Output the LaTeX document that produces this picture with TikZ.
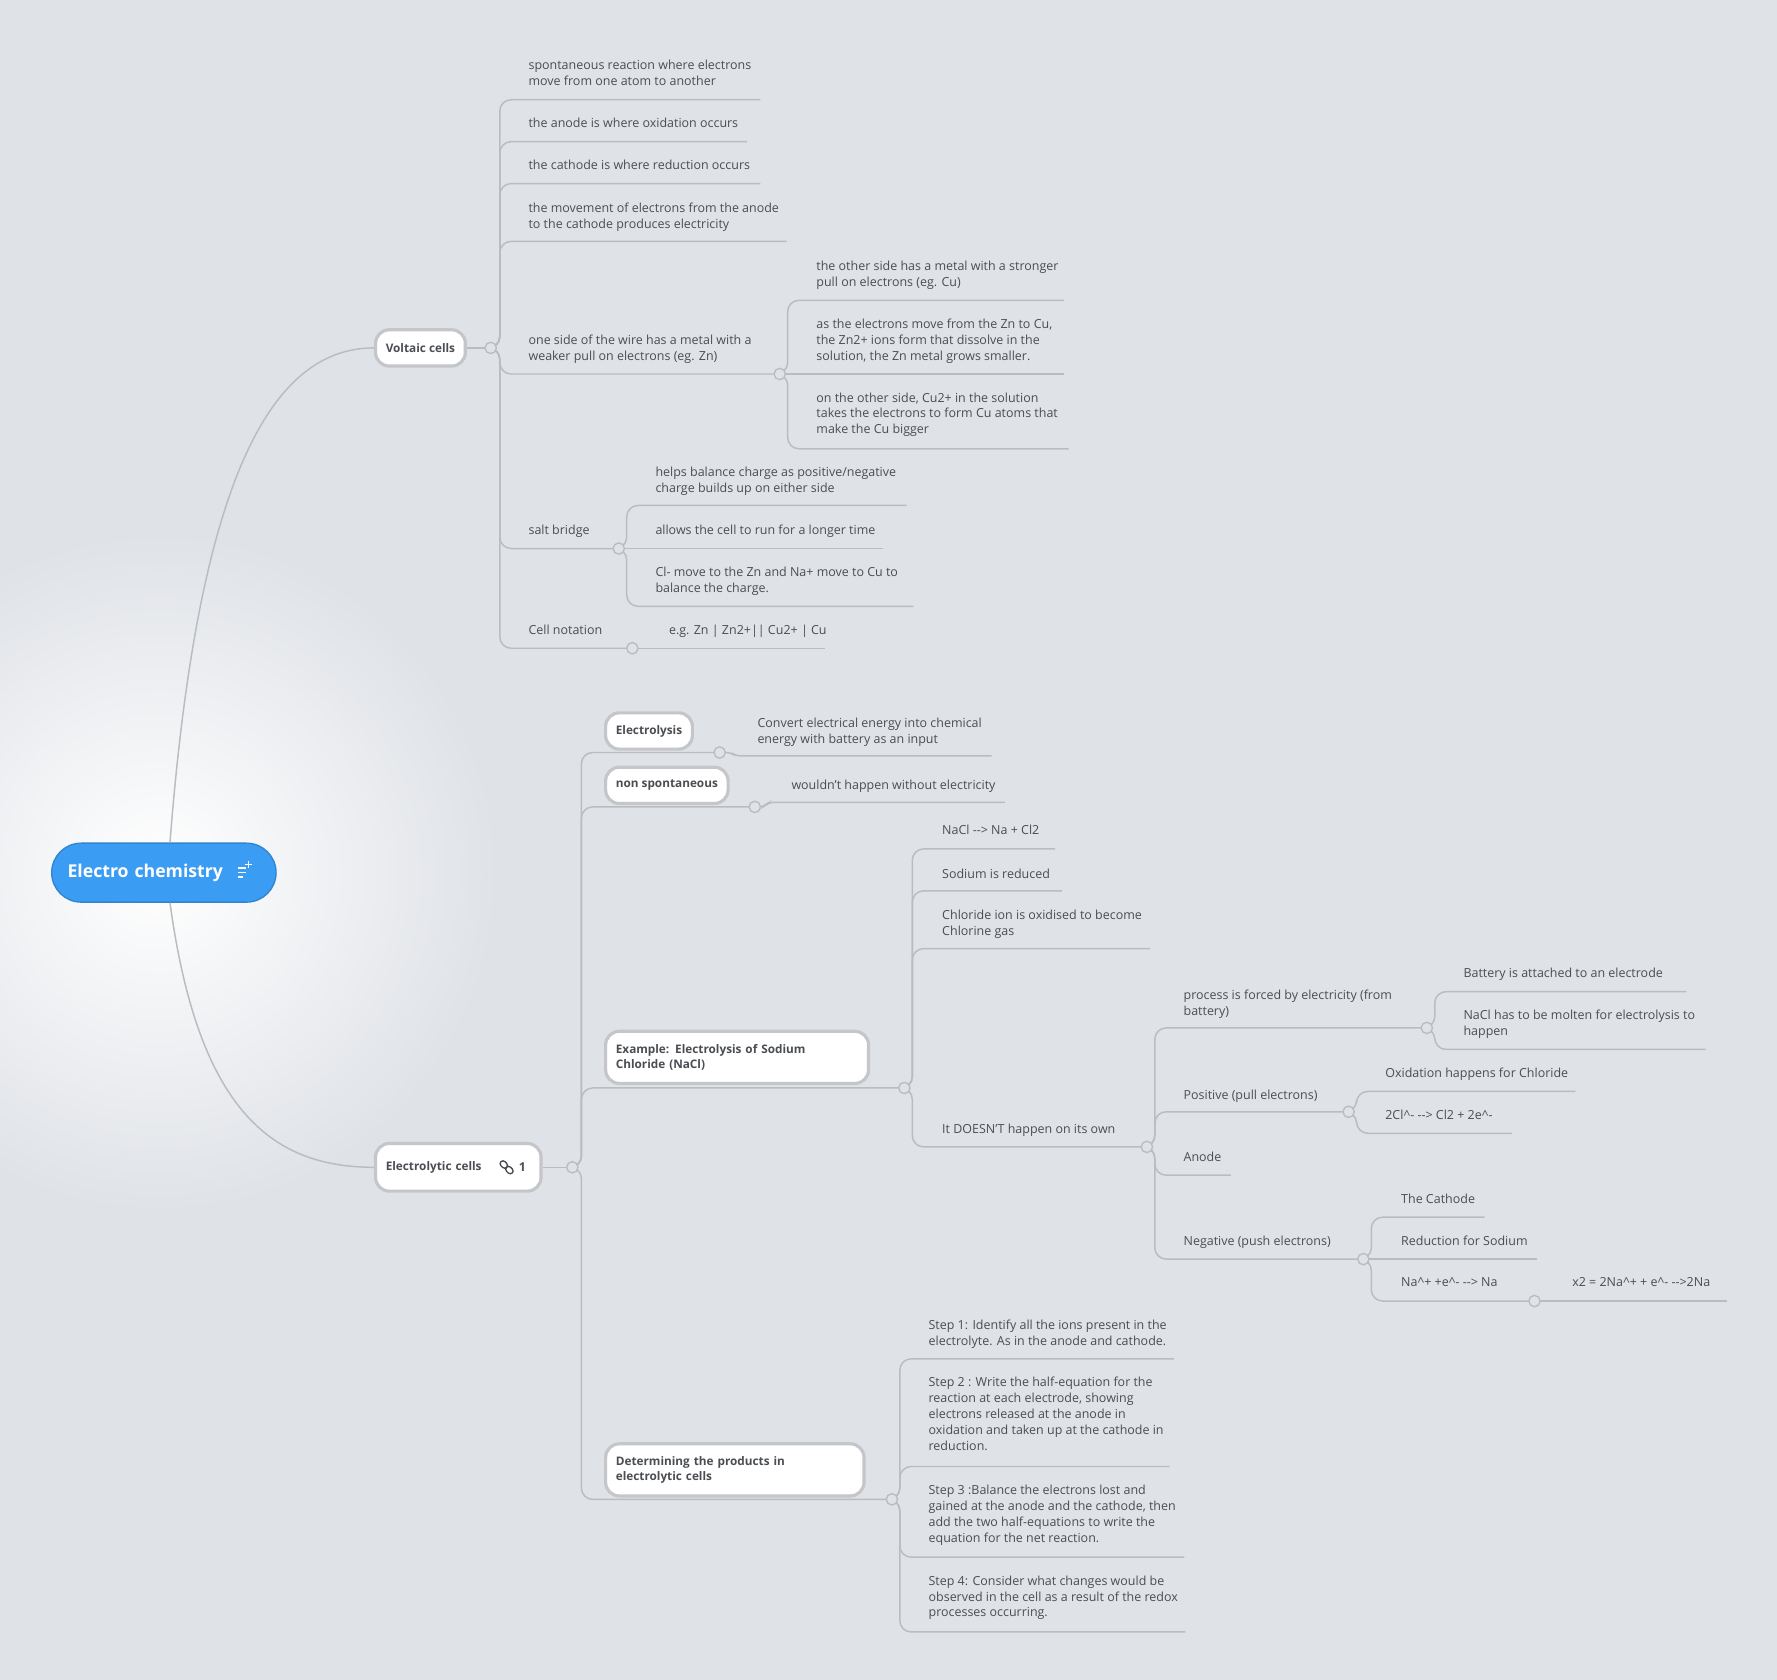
\documentclass[tikz,border=0pt]{standalone}
\usepackage{fontspec}
\setmainfont{Open Sans}
\definecolor{bg}{HTML}{DFE2E7}
\definecolor{ln}{HTML}{B9BCC1}
\definecolor{tx}{HTML}{4A4D52}
\definecolor{bx}{HTML}{C4C6CA}
\definecolor{blu}{HTML}{3A9CF2}
\hyphenpenalty=10000
\tikzset{
 conn/.style={draw=ln,line width=0.65pt},
 txt/.style={inner sep=0pt,align=left,text=tx,font=\fontsize{5.5}{7}\selectfont,anchor=north west},
 topic/.style={draw=bx,line width=1.4pt,fill=white,rounded corners=6pt,inner xsep=4.5pt,inner ysep=3pt,align=left,text=tx,font=\fontsize{5.2}{7}\selectfont\bfseries,anchor=west},
 dot/.style={circle,draw=ln,fill=bg,line width=0.6pt,inner sep=0pt,minimum size=5pt}
}
\newcommand\lfa[8]{%
 \draw[conn,rounded corners=5pt] (#1) -- (#1 -| #2,0) -- (#2,#5) -- (#6,#5);
 \coordinate (#8) at (#6,#5);
 \node[txt] (t#8) at (#3,#4-4) {#7};}
\newcommand\lfb[7]{%
 \draw[conn] (#1) -- (#5,0 |- #1);
 \coordinate (#7) at (#1 -| #5,0);
 \node[txt] (t#7) at (#2,#3-4) {#6};}
\newcommand\arr{-{}-{}>}
\begin{document}
\begin{tikzpicture}[x=0.5pt,y=-0.5pt]
\fill[bg] (0,0) rectangle (1568,1482);
\useasboundingbox (0,0) rectangle (1568,1482);
\shade[inner color=white,outer color=bg] (140,770) circle (300);
\node[fill=blu,draw=blu!85!black,line width=0.6pt,rounded corners=13pt,minimum width=99pt,minimum height=26pt,text=white,font=\fontsize{7.8}{10}\selectfont\bfseries,anchor=west,inner xsep=7pt,text width=85pt] (root) at (45,770) {Electro chemistry};
\foreach \yy/\ll in {766/7,770/7,774/4} \draw[white,line width=0.6pt] (210,\yy) -- (210+\ll,\yy);
\draw[white,line width=0.6pt] (216,763)--(222,763) (219,760)--(219,766);
\node[topic,minimum height=16pt] (volt) at (330,307) {Voltaic cells};
\node[topic,minimum height=21pt,text width=64pt] (elec) at (330,1030) {Electrolytic cells};
\draw[tx,line width=0.6pt,rounded corners=1.2pt,rotate around={-45:(447,1030)}] (440,1027.5) rectangle (447,1032.5) (447,1027.5) rectangle (454,1032.5);
\node[text=tx,font=\fontsize{5.4}{7}\selectfont\bfseries,inner sep=0pt] at (461,1030) {1};
\draw[conn] (root.north west) ++(105,0) .. controls (175,420) and (240,307) .. (volt.west);
\draw[conn] (root.south west) ++(105,0) .. controls (175,980) and (240,1030) .. (elec.west);
\coordinate (cv) at (433,307);
\coordinate (ce) at (505,1030);
\draw[conn] (volt.east) -- (cv);
\draw[conn] (elec.east) -- (ce);
\lfa{cv}{441}{466}{57}{88}{671}{spontaneous reaction where electrons\\move from one atom to another}{v1}
\lfa{cv}{441}{466}{108}{125}{659}{the anode is where oxidation occurs}{v2}
\lfa{cv}{441}{466}{145}{162}{671}{the cathode is where reduction occurs}{v3}
\lfa{cv}{441}{466}{183}{213}{694}{the movement of electrons from the anode\\to the cathode produces electricity}{v4}
\lfa{cv}{441}{466}{299}{330}{688}{one side of the wire has a metal with a\\weaker pull on electrons (eg. Zn)}{v5}
\lfa{v5}{695}{720}{234}{265}{939}{the other side has a metal with a stronger\\pull on electrons (eg. Cu)}{v51}
\lfb{v5}{720}{285}{330}{939}{as the electrons move from the Zn to Cu,\\the Zn2+ ions form that dissolve in the\\solution, the Zn metal grows smaller.}{v52}
\lfa{v5}{695}{720}{350}{396}{943}{on the other side, Cu2+ in the solution\\takes the electrons to form Cu atoms that\\make the Cu bigger}{v53}
\lfa{cv}{441}{466}{467}{484}{546}{salt bridge}{v6}
\lfa{v6}{553}{578}{416}{446}{800}{helps balance charge as positive/negative\\charge builds up on either side}{v61}
\lfb{v6}{578}{467}{484}{779}{allows the cell to run for a longer time}{v62}
\lfa{v6}{553}{578}{504}{535}{806}{Cl- move to the Zn and Na+ move to Cu to\\balance the charge.}{v63}
\lfa{cv}{441}{466}{555}{572}{558}{Cell notation}{v7}
\lfb{v7}{590}{555}{572}{728}{e.g. Zn | Zn2+|| Cu2+ | Cu}{v71}
\node[topic,minimum height=16pt] (b1) at (533,645) {Electrolysis};
\node[topic,minimum height=16pt] (b2) at (533,693) {non spontaneous};
\node[topic,minimum height=23pt,text width=107pt] (b3) at (533,933) {Example: Electrolysis of Sodium Chloride (NaCl)};
\node[topic,minimum height=23pt,text width=105pt] (b4) at (533,1297) {Determining the products in electrolytic cells};
\lfa{ce}{513}{600}{0}{664}{635}{}{e1}
\lfa{ce}{513}{600}{0}{712}{666}{}{e2}
\lfa{ce}{513}{600}{0}{960}{798}{}{e3}
\lfa{ce}{513}{600}{0}{1323}{787}{}{e4}
\node[txt] (te11) at (668,633) {Convert electrical energy into chemical\\energy with battery as an input};
\node[txt] (te21) at (698,688) {wouldn't happen without electricity};
\coordinate (e11) at (875,667);
\coordinate (e21) at (887,708);
\draw[conn,rounded corners=2pt] (e1) -- (645,664) -- (649,667) -- (e11);
\draw[conn,rounded corners=2pt] (e2) -- (674,712) -- (678,708) -- (e21);
\lfa{e3}{805}{831}{732}{749}{931}{NaCl \arr{} Na + Cl2}{e31}
\lfa{e3}{805}{831}{770}{786}{937}{Sodium is reduced}{e32}
\lfa{e3}{805}{831}{807}{837}{1015}{Chloride ion is oxidised to become\\Chlorine gas}{e33}
\lfa{e3}{805}{831}{995}{1012}{1012}{It DOESN'T happen on its own}{e34}
\lfa{e34}{1019}{1044}{877}{907}{1259}{process is forced by electricity (from\\battery)}{p1}
\lfa{p1}{1266}{1291}{858}{875}{1488}{Battery is attached to an electrode}{p11}
\lfa{p1}{1266}{1291}{895}{926}{1505}{NaCl has to be molten for electrolysis to\\happen}{p12}
\lfa{e34}{1019}{1044}{965}{981}{1190}{Positive (pull electrons)}{p2}
\lfa{p2}{1197}{1222}{946}{963}{1390}{Oxidation happens for Chloride}{p21}
\lfa{p2}{1197}{1222}{983}{1000}{1334}{2Cl\^{}- \arr{} Cl2 + 2e\^{}-}{p22}
\lfa{e34}{1019}{1044}{1020}{1037}{1086}{Anode}{p3}
\lfa{e34}{1019}{1044}{1094}{1111}{1203}{Negative (push electrons)}{p4}
\lfa{p4}{1210}{1236}{1057}{1074}{1310}{The Cathode}{p41}
\lfb{p4}{1236}{1094}{1111}{1356}{Reduction for Sodium}{p42}
\lfa{p4}{1210}{1236}{1131}{1148}{1354}{Na\^{}+ +e\^{}- \arr{} Na}{p43}
\lfb{p43}{1387}{1131}{1148}{1524}{x2 = 2Na\^{}+ + e\^{}- \arr{}2Na}{p431}
\lfa{e4}{794}{819}{1168}{1199}{1036}{Step 1: Identify all the ions present in the\\electrolyte. As in the anode and cathode.}{s1}
\lfa{e4}{794}{819}{1219}{1294}{1032}{Step 2 : Write the half-equation for the\\reaction at each electrode, showing\\electrons released at the anode in\\oxidation and taken up at the cathode in\\reduction.}{s2}
\lfa{e4}{794}{819}{1314}{1374}{1045}{Step 3 :Balance the electrons lost and\\gained at the anode and the cathode, then\\add the two half-equations to write the\\equation for the net reaction.}{s3}
\lfa{e4}{794}{819}{1394}{1440}{1046}{Step 4: Consider what changes would be\\observed in the cell as a result of the redox\\processes occurring.}{s4}
\foreach \c in {cv,ce,v5,v6,v7,e1,e2,e3,e4,e34,p1,p2,p4,p43} \node[dot] at (\c) {};
\end{tikzpicture}
\end{document}
